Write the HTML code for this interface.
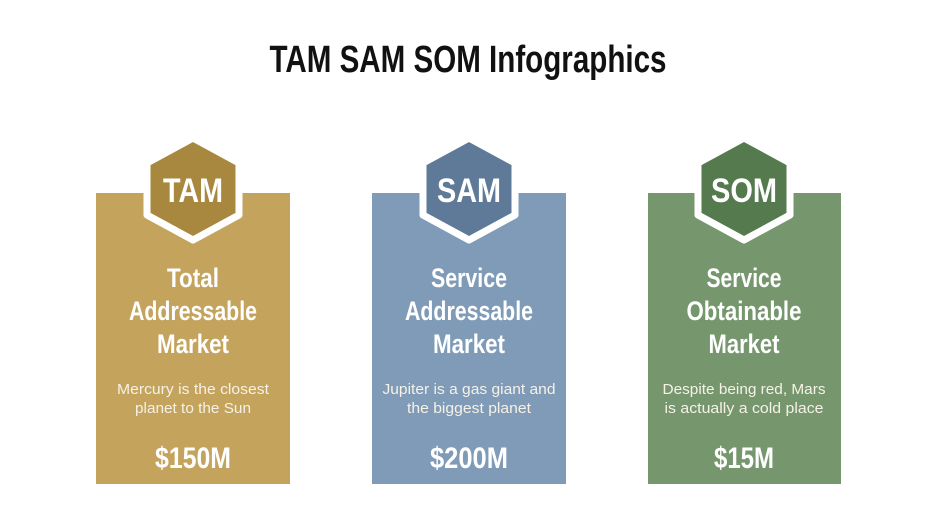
<!DOCTYPE html>
<html><head><meta charset="utf-8"><style>
html,body{margin:0;padding:0;background:#fff;width:937px;height:527px;overflow:hidden}
text{font-family:"Liberation Sans Narrow","Liberation Sans",sans-serif;fill:#fff}
.b{font-weight:bold}
.d{font-family:"Liberation Sans",sans-serif;font-size:14.5px;fill:#f6f1e6}
</style></head><body>
<svg width="937" height="527" viewBox="0 0 937 527" xmlns="http://www.w3.org/2000/svg">
<text x="468" y="72" text-anchor="middle" class="b" font-size="38" style="fill:#111" textLength="397" lengthAdjust="spacingAndGlyphs">TAM SAM SOM Infographics</text>

<!-- TAM -->
<rect x="96" y="193" width="194" height="291" fill="#c4a35d"/>
<polygon points="193,138 239,163 239,215 193,240 147,215 147,163" fill="#a8883f" stroke="#fff" stroke-width="7" stroke-linejoin="round"/>
<text x="193" y="202" text-anchor="middle" class="b" font-size="34" textLength="60" lengthAdjust="spacingAndGlyphs">TAM</text>
<text x="193" y="287" text-anchor="middle" class="b" font-size="27" textLength="52" lengthAdjust="spacingAndGlyphs">Total</text>
<text x="193" y="320" text-anchor="middle" class="b" font-size="27" textLength="128" lengthAdjust="spacingAndGlyphs">Addressable</text>
<text x="193" y="353" text-anchor="middle" class="b" font-size="27" textLength="72" lengthAdjust="spacingAndGlyphs">Market</text>
<text x="193" y="394" text-anchor="middle" class="d" textLength="152" lengthAdjust="spacingAndGlyphs">Mercury is the closest</text>
<text x="193" y="413" text-anchor="middle" class="d" textLength="116" lengthAdjust="spacingAndGlyphs">planet to the Sun</text>
<text x="193" y="468" text-anchor="middle" class="b" font-size="30" textLength="76" lengthAdjust="spacingAndGlyphs">$150M</text>

<!-- SAM -->
<rect x="372" y="193" width="194" height="291" fill="#7f9bb8"/>
<polygon points="469,138 515,163 515,215 469,240 423,215 423,163" fill="#5e7a98" stroke="#fff" stroke-width="7" stroke-linejoin="round"/>
<text x="469" y="202" text-anchor="middle" class="b" font-size="34" textLength="64" lengthAdjust="spacingAndGlyphs">SAM</text>
<text x="469" y="287" text-anchor="middle" class="b" font-size="27" textLength="76" lengthAdjust="spacingAndGlyphs">Service</text>
<text x="469" y="320" text-anchor="middle" class="b" font-size="27" textLength="128" lengthAdjust="spacingAndGlyphs">Addressable</text>
<text x="469" y="353" text-anchor="middle" class="b" font-size="27" textLength="72" lengthAdjust="spacingAndGlyphs">Market</text>
<text x="469" y="394" text-anchor="middle" class="d" textLength="173" lengthAdjust="spacingAndGlyphs">Jupiter is a gas giant and</text>
<text x="469" y="413" text-anchor="middle" class="d" textLength="124" lengthAdjust="spacingAndGlyphs">the biggest planet</text>
<text x="469" y="468" text-anchor="middle" class="b" font-size="30" textLength="78" lengthAdjust="spacingAndGlyphs">$200M</text>

<!-- SOM -->
<rect x="648" y="193" width="193" height="291" fill="#76976e"/>
<polygon points="744,138 790,163 790,215 744,240 698,215 698,163" fill="#547a4e" stroke="#fff" stroke-width="7" stroke-linejoin="round"/>
<text x="744" y="202" text-anchor="middle" class="b" font-size="34" textLength="66" lengthAdjust="spacingAndGlyphs">SOM</text>
<text x="744" y="287" text-anchor="middle" class="b" font-size="27" textLength="75" lengthAdjust="spacingAndGlyphs">Service</text>
<text x="744" y="320" text-anchor="middle" class="b" font-size="27" textLength="115" lengthAdjust="spacingAndGlyphs">Obtainable</text>
<text x="744" y="353" text-anchor="middle" class="b" font-size="27" textLength="71" lengthAdjust="spacingAndGlyphs">Market</text>
<text x="744" y="394" text-anchor="middle" class="d" textLength="163" lengthAdjust="spacingAndGlyphs">Despite being red, Mars</text>
<text x="744" y="413" text-anchor="middle" class="d" textLength="159" lengthAdjust="spacingAndGlyphs">is actually a cold place</text>
<text x="744" y="468" text-anchor="middle" class="b" font-size="30" textLength="60" lengthAdjust="spacingAndGlyphs">$15M</text>
</svg>
</body></html>
